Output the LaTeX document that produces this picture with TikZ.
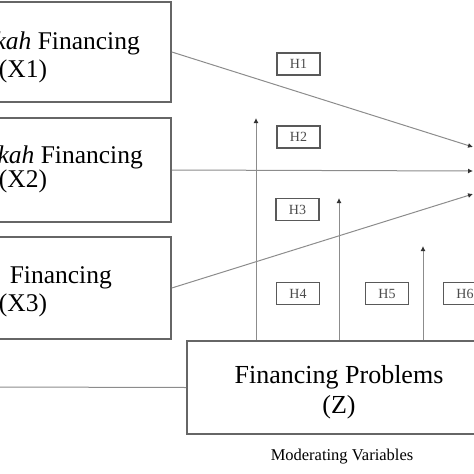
\documentclass[tikz,border=0pt]{standalone}
\usepackage{fontspec}
\setmainfont{Liberation Serif}
\usetikzlibrary{arrows.meta}
\begin{document}
\begin{tikzpicture}[x=1pt,y=-1pt,
  varbox/.style={draw=black!60, line width=1.6pt, fill=white, rectangle, inner sep=0pt},
  bigtxt/.style={font=\fontsize{25.5}{28}\selectfont, inner sep=0pt},
  hbox/.style={draw=black!65, line width=1.3pt, fill=white, minimum width=43pt, minimum height=22pt, inner sep=0pt, font=\fontsize{14}{16}\selectfont, text=black!70},
  link/.style={draw=black!45, line width=1pt},
  arr/.style={link, -{Latex[length=5pt,width=5pt,color=black!80]}}]
\useasboundingbox (0,0) rectangle (474,474);
\clip (0,0) rectangle (474,474);
% variable boxes
\node[varbox, minimum width=301pt, minimum height=100.5pt] (X1) at (20.5,52) {};
\node[varbox, minimum width=301pt, minimum height=104pt] (X2) at (20.5,170) {};
\node[varbox, minimum width=301pt, minimum height=102pt] (X3) at (20.5,288) {};
\node[varbox, minimum width=304pt, minimum height=93pt] (Z) at (339,387.5) {};
% texts
\node[bigtxt, anchor=base east] (x1a) at (140,49) {\textit{kah} Financing};
\node[bigtxt, anchor=base] (x1b) at (23,77) {(X1)};
\node[bigtxt, anchor=base east] (x2a) at (143,163) {\textit{kah} Financing};
\node[bigtxt, anchor=base] (x2b) at (23,187) {(X2)};
\node[bigtxt, anchor=base east] (x3a) at (112,283) {Financing};
\node[bigtxt, anchor=base] (x3b) at (23,311) {(X3)};
\node[bigtxt, font=\fontsize{26}{28}\selectfont, anchor=base] (za) at (339,383) {Financing Problems};
\node[bigtxt, font=\fontsize{26}{28}\selectfont, anchor=base] (zb) at (339,413) {(Z)};
\node[font=\fontsize{16.5}{18}\selectfont, anchor=base, inner sep=0pt] (mod) at (342,460) {Moderating Variables};
% hypothesis labels
\node[hbox] (h1) at (298.5,64) {H1};
\node[hbox] (h2) at (298.5,137) {H2};
\node[hbox] (h3) at (297.5,209.5) {H3};
\node[hbox] (h4) at (298,293.5) {H4};
\node[hbox] (h5) at (387,293.5) {H5};
\node[hbox] (h6) at (465,293.5) {H6};
% connectors
\coordinate (t1) at (473,147);
\coordinate (t2) at (473,171);
\coordinate (t3) at (473,194);
\draw[arr] (X1.east) -- (t1);
\draw[arr] (X2.east) -- (t2);
\draw[arr] (X3.east) -- (t3);
\coordinate (v1) at (256,118);
\coordinate (v2) at (339,198);
\coordinate (v3) at (423,246);
\draw[arr] (Z.north -| v1) -- (v1);
\draw[arr] (Z.north -| v2) -- (v2);
\draw[arr] (Z.north -| v3) -- (v3);
\coordinate (zl) at (-5,387);
\draw[link] (Z.west) -- (zl);
\end{tikzpicture}
\end{document}
